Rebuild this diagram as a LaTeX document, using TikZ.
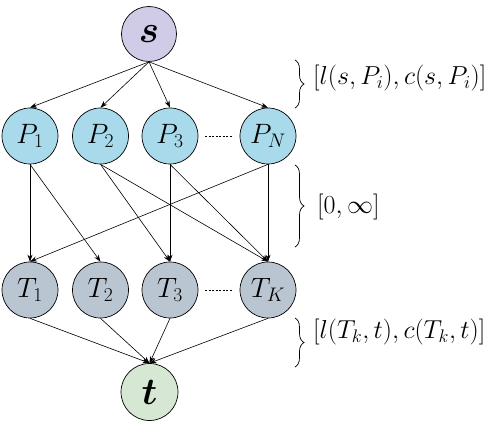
\RequirePackage{fix-cm}
\documentclass[tikz,border=0pt]{standalone}
\usepackage{amsmath,bm}
\usetikzlibrary{arrows.meta,decorations.pathreplacing}
\definecolor{scol}{HTML}{D0CCE8}
\definecolor{pcol}{HTML}{A8DAEC}
\definecolor{tcol}{HTML}{B9C6D2}
\definecolor{endcol}{HTML}{D6E8D4}
\tikzset{
  vtx/.style={circle, draw=black, line width=0.7pt, minimum size=56pt, inner sep=0pt, font=\fontsize{28}{33}\selectfont},
  big/.style={vtx, font=\fontsize{38}{44}\selectfont\boldmath},
  pnode/.style={vtx, fill=pcol},
  tnode/.style={vtx, fill=tcol},
  edge/.style={line width=0.6pt, -{Stealth[length=7pt,width=5pt]}},
  dots/.style={dashed, dash pattern=on 2pt off 1.5pt, line width=0.5pt},
  brc/.style={decorate, decoration={brace, amplitude=9pt}, line width=0.7pt},
  lbl/.style={anchor=west, inner sep=0pt, font=\fontsize{26}{31}\selectfont}
}
\begin{document}
\begin{tikzpicture}[x=1pt,y=-1pt]
\useasboundingbox (0,0) rectangle (491,425);
\node[big, fill=scol, minimum size=55pt] (s) at (149,34) {$\bm{s}$};
\node[pnode] (p1) at (30,136) {$P_1$};
\node[pnode] (p2) at (100.5,136) {$P_2$};
\node[pnode] (p3) at (170,136) {$P_3$};
\node[pnode] (pn) at (268,136) {$P_N$};
\node[tnode] (t1) at (30,290) {$T_1$};
\node[tnode] (t2) at (100.5,290) {$T_2$};
\node[tnode] (t3) at (170,290) {$T_3$};
\node[tnode] (tk) at (268,290) {$T_K$};
\node[big, fill=endcol, minimum size=57pt] (t) at (149.5,392) {$\bm{t}$};
\coordinate (d1a) at (205,136); \coordinate (d1b) at (232,136);
\coordinate (d2a) at (205,290); \coordinate (d2b) at (232,290);
\draw[dots] (d1a) -- (d1b);
\draw[dots] (d2a) -- (d2b);
\foreach \p in {p1,p2,p3,pn} \draw[edge] (s.south) -- (\p.north);
\foreach \a/\b in {p1/t1,p1/t2,p2/t3,p2/tk,p3/t3,p3/tk,pn/t1,pn/tk}
  \draw[edge] (\a.south) -- (\b.north);
\foreach \q in {t1,t2,t3,tk} \draw[edge] (\q.south) -- (t.north);
\coordinate (b1a) at (295,60); \coordinate (b1b) at (295,108);
\coordinate (b2a) at (295,165); \coordinate (b2b) at (295,247);
\coordinate (b3a) at (295,318); \coordinate (b3b) at (295,367);
\draw[brc] (b1a) -- (b1b);
\draw[brc] (b2a) -- (b2b);
\draw[brc] (b3a) -- (b3b);
\node[lbl] (l1) at (313,78) {$[l(s,P_i),c(s,P_i)]$};
\node[lbl] (l2) at (317,207) {$[0,\infty]$};
\node[lbl] (l3) at (313,332) {$[l(T_k,t),c(T_k,t)]$};
\end{tikzpicture}
\end{document}
